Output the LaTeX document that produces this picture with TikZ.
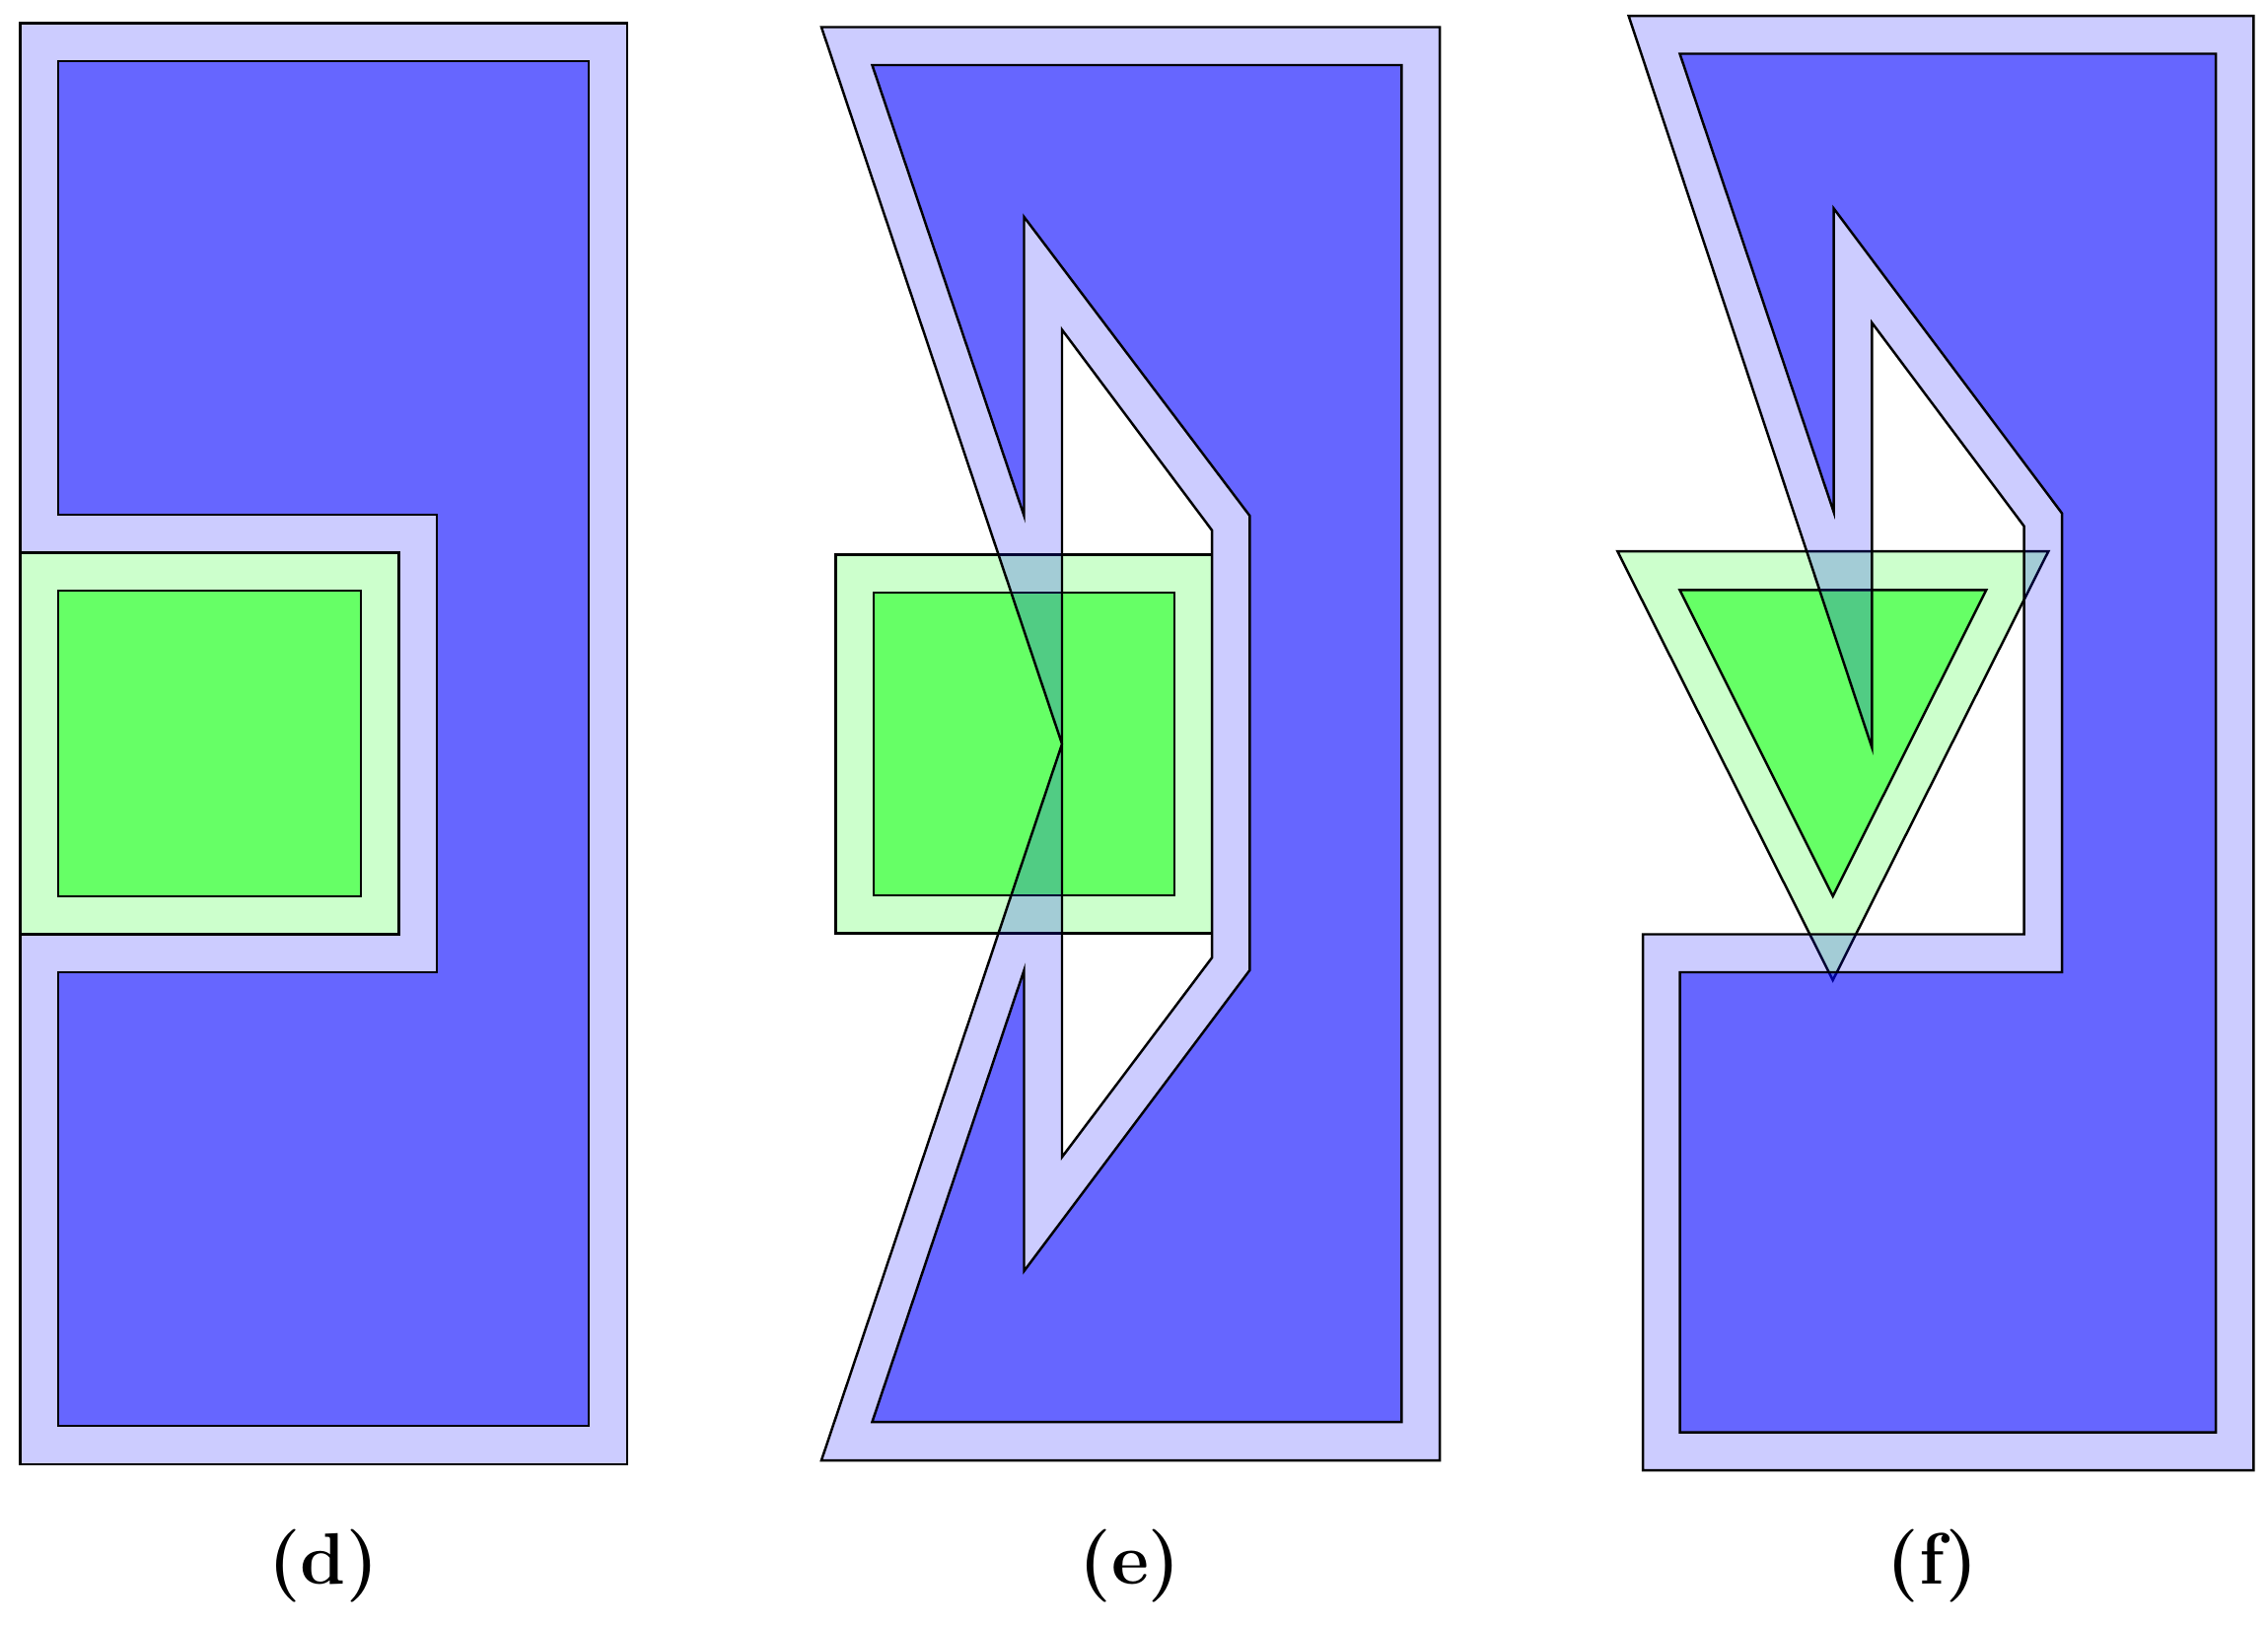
\documentclass[tikz,border=0pt]{standalone}
\definecolor{lgr}{HTML}{CCFFCC}
\definecolor{dgr}{HTML}{66FF66}
\tikzset{
  edge/.style={draw=black, line width=0.7pt, line join=miter},
  lav/.style={edge, fill=blue, fill opacity=0.2},
  blu/.style={edge, fill=blue, fill opacity=0.5},
  lgreen/.style={edge, fill=lgr},
  dgreen/.style={edge, fill=dgr},
  captext/.style={font=\fontsize{21}{25}\selectfont\bfseries, anchor=base, inner sep=0pt}
}
\begin{document}
\begin{tikzpicture}[x=0.01cm, y=-0.01cm]
\useasboundingbox (0,0) rectangle (2300,1648);

% ---------- panel (d) ----------
\path[lgreen] (20.5,560.5) rectangle (404.5,947.5);
\path[dgreen] (59,599) rectangle (366,909);
\path[lav] (20.5,23.5) -- (636,23.5) -- (636,1485) -- (20.5,1485) -- (20.5,947.5)
  -- (404.5,947.5) -- (404.5,560.5) -- (20.5,560.5) -- cycle;
\path[blu] (59,62) -- (597,62) -- (597,1446) -- (59,1446) -- (59,986)
  -- (443,986) -- (443,522) -- (59,522) -- cycle;

% ---------- panel (e) ----------
\path[lgreen] (847.5,562.5) rectangle (1229.2,946.5);
\path[dgreen] (886,601) rectangle (1191,908);
\path[lav, even odd rule] (833,27.5) -- (1460,27.5) -- (1460,1481) -- (833,1481)
  -- (1077,754.5) -- cycle
  (1077,334.4) -- (1229.2,538) -- (1229.2,971) -- (1077,1173.4) -- cycle;
\path[blu] (884.5,66) -- (1421.3,66) -- (1421.3,1442) -- (884.5,1442)
  -- (1038.5,984) -- (1038.5,1289) -- (1267.3,984) -- (1267.3,523)
  -- (1038.5,220) -- (1038.5,523) -- cycle;

% ---------- panel (f) ----------
\path[lgreen] (1640.3,559.1) -- (2077.3,559.1) -- (1858.7,994) -- cycle;
\path[dgreen] (1703.4,598.3) -- (2014.3,598.3) -- (1858.7,908.8) -- cycle;
\path[lav] (1651.6,16.1) -- (2285.3,16.1) -- (2285.3,1491) -- (1666,1491)
  -- (1666,947.5) -- (2052.5,947.5) -- (2052.5,533.5) -- (1898.4,327.4)
  -- (1898.4,758.3) -- cycle;
\path[blu] (1703.5,54.5) -- (2247,54.5) -- (2247,1452.5) -- (1703.5,1452.5)
  -- (1703.5,986) -- (2091,986) -- (2091,520.5) -- (1859.5,211.3)
  -- (1859.5,519) -- cycle;

% ---------- captions ----------
\node[captext] (labd) at (328,1606) {(d)};
\node[captext] (labe) at (1146,1606) {(e)};
\node[captext] (labf) at (1960,1606) {(f)};
\end{tikzpicture}
\end{document}
